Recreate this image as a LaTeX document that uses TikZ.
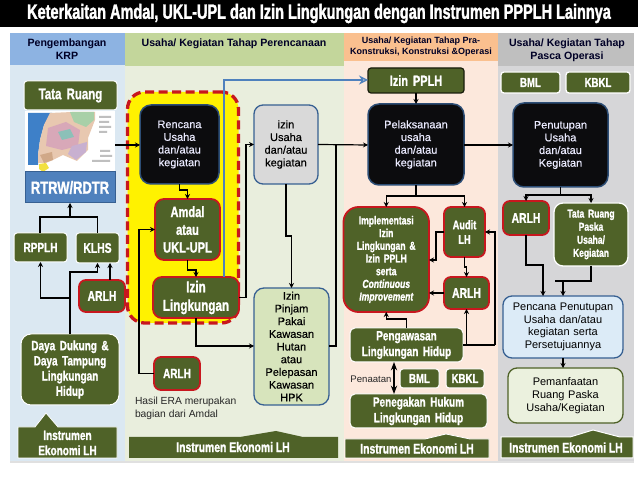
\documentclass[tikz,border=0pt]{standalone}
\usepackage{fontspec}
\setmainfont{Liberation Sans}
\newfontfamily\impact{Liberation Sans Bold}[FakeStretch=0.74,FakeBold=1.2]
\newfontfamily\impactit{Liberation Sans Bold Italic}[FakeStretch=0.74,FakeBold=1.2]
\newfontfamily\titlef{Liberation Sans Bold}[FakeStretch=0.70,FakeBold=1.6]
\newfontfamily\bodyf{Liberation Sans}[FakeBold=0.35]
\usetikzlibrary{arrows.meta,calc}
\definecolor{olive}{HTML}{4F6228}
\definecolor{redb}{HTML}{C8171E}
\definecolor{blueb}{HTML}{376092}
\definecolor{nearblack}{HTML}{0C0C0E}
\definecolor{bodyA}{HTML}{DBE8F2}
\definecolor{bodyB}{HTML}{E9EEDD}
\definecolor{bodyC}{HTML}{FCE8DC}
\definecolor{bodyD}{HTML}{D6D6D8}
\definecolor{headA}{HTML}{8DB3E2}
\definecolor{headB}{HTML}{C3D69B}
\definecolor{headC}{HTML}{FAC08F}
\definecolor{headD}{HTML}{BFBFBF}
\definecolor{sea}{HTML}{3E80C8}
\definecolor{mapA}{HTML}{E8C8B0}
\definecolor{mapB}{HTML}{D8A8B8}
\definecolor{mapC}{HTML}{A8D0A8}
\definecolor{mapD}{HTML}{8CC0B8}
\definecolor{mapE}{HTML}{C8B0D0}
\definecolor{mapF}{HTML}{F2E040}
\definecolor{mapG}{HTML}{D0A888}
\definecolor{bluefill}{HTML}{4F81BD}
\definecolor{greyfill}{HTML}{D9D9D9}
\definecolor{pinjamfill}{HTML}{D7E4BC}
\definecolor{pencanafill}{HTML}{DCEBF7}
\definecolor{manfaatfill}{HTML}{EBF1DE}
\newcommand{\impsize}[1]{\pgfmathsetmacro\impll{#1*1.05}\fontsize{#1}{\impll}\selectfont\impact}
\tikzset{
  base/.style={inner sep=0pt,outer sep=0pt,align=center},
  olivebox/.style={base,fill=olive,draw=white,line width=1pt,rounded corners=3pt,text=white},
  arlhbox/.style={base,fill=olive,draw=redb,line width=1.8pt,rounded corners=7pt,text=white},
  darkbox/.style={base,fill=nearblack,draw=blueb!80!black,line width=1.5pt,rounded corners=11pt,text=white!92!blue,font=\fontsize{11}{12.7}\selectfont\bodyf},
  lightbox/.style={base,draw=blueb,line width=1.3pt,rounded corners=9pt,text=black,font=\fontsize{11}{12.7}\selectfont},
  semibox/.style={lightbox,font=\fontsize{11}{12.7}\selectfont\bodyf},
  imp/.style={font=\impsize{#1}},
  conn/.style={draw=black,line width=1.2pt,-{Stealth[length=5pt,width=5pt]}},
  plain/.style={draw=black,line width=1.2pt},
  head/.style={base,font=\fontsize{10.6}{12.7}\selectfont\bfseries,text=black!85!blue},
}
% box from corners
\newcommand{\bx}[7]{%
  \pgfmathsetmacro\cxx{(#3+#5)/2}\pgfmathsetmacro\cyy{(#4+#6)/2}%
  \pgfmathsetmacro\www{#5-#3}\pgfmathsetmacro\hhh{#6-#4}%
  \node[#2,minimum width=\www pt,minimum height=\hhh pt,text width=\www pt] (#1) at (\cxx,\cyy) {#7};}
\begin{document}
\begin{tikzpicture}[x=1pt,y=-1pt]
\useasboundingbox (0,0) rectangle (638,478);
\fill[white] (0,0) rectangle (638,478);
% title
\fill[black] (0,0) rectangle (638,27);
\node[base,text=white,font=\fontsize{20.7}{22}\selectfont\titlef] (title) at (319,13.5) {Keterkaitan Amdal, UKL-UPL dan Izin Lingkungan dengan Instrumen PPPLH Lainnya};
% column bodies
\fill[black!12] (10,33) rectangle (634,463);
\fill[bodyA] (10,33) rectangle (125,461);
\fill[bodyB] (125,33) rectangle (344,461);
\fill[bodyC] (344,33) rectangle (498,461);
\fill[bodyD] (498,33) rectangle (634,461);
% column heads
\fill[headA] (10,33) rectangle (125,65);
\fill[headB] (125,33) rectangle (344,66);
\fill[headC] (344,33) rectangle (498,61);
\fill[headD] (498,33) rectangle (634,66);
\node[head] (h1) at (67,49) {Pengembangan\\KRP};
\node[head] (h2) at (234,44) {Usaha/ Kegiatan Tahap Perencanaan};
\node[head,font=\fontsize{9}{10.8}\selectfont\bfseries] (h3) at (421,47) {Usaha/ Kegiatan Tahap Pra-\\Konstruksi, Konstruksi \&Operasi};
\node[head] (h4) at (567,50) {Usaha/ Kegiatan Tahap\\Pasca Operasi};
% column 1
\bx{tata}{olivebox,imp=15.5}{24}{81}{117}{110}{Tata Ruang}
\bx{map}{base,fill=white}{25}{111}{115}{172}{}
\begin{scope}
  \fill[sea] (28,113) -- (52,113) -- (44,125) -- (40,140) -- (38,155) -- (38,165) -- (28,165) -- cycle;
  \fill[mapA] (50,113) -- (72,112) -- (95,112) -- (95,120) -- (88,138) -- (88,150) -- (77,161) -- (63,155) -- (53,160) -- (46,163) -- (38,163) -- (38,155) -- (40,140) -- (44,125) -- cycle;
  \fill[mapB] (48,128) -- (66,122) -- (80,130) -- (78,146) -- (62,150) -- (46,146) -- cycle;
  \fill[mapC] (70,112) -- (94,112) -- (94,120) -- (86,127) -- (74,122) -- cycle;
  \fill[mapD] (58,132) -- (70,129) -- (74,137) -- (62,140) -- cycle;
  \fill[mapE] (72,146) -- (87,142) -- (86,152) -- (76,160) -- (68,154) -- cycle;
  \fill[mapG] (40,155) -- (52,152) -- (53,160) -- (44,163) -- cycle;
  \fill[mapF] (39,164) -- (46,163) -- (49,168) -- (43,172) -- (39,169) -- cycle;
  \fill[black!25] (99,116) rectangle (111,118) (99,121) rectangle (109,123) (99,126) rectangle (111,128)
     (99,131) rectangle (107,133) (100,150) rectangle (110,152) (100,155) rectangle (112,157) (92,160) rectangle (110,162);
\end{scope}
\bx{rtrw}{base,fill=bluefill,draw=blueb,line width=1pt,text=white,imp=17.5}{25}{172}{115}{203}{RTRW/RDTR}
\bx{rpplh}{olivebox,imp=13.5}{14}{233}{67}{262}{RPPLH}
\bx{klhs}{olivebox,imp=14}{76}{233}{119}{263}{KLHS}
\bx{arlhA}{arlhbox,imp=14}{79}{280}{125}{312}{ARLH}
\bx{daya}{olivebox,rounded corners=10pt,imp=13.5}{21}{334}{119}{405}{Daya Dukung \&\\[1pt]Daya Tampung\\[1pt]Lingkungan\\[1pt]Hidup}
% col 1 banner
\fill[olive,draw=white,line width=.8pt] (18,427) -- (35,427) -- (46,413) -- (58,427) -- (117,427) -- (117,458) -- (18,458) -- cycle;
\node[base,text=white,imp=13.5] (instA) at (67.5,443) {Instrumen\\[1pt]Ekonomi LH};
% yellow dashed area
\node[base,fill=yellow,draw=redb,line width=3.3pt,rounded corners=17pt,dash pattern=on 9pt off 4.5pt,minimum width=111pt,minimum height=231pt] (yel) at (183,207.5) {};
% col 2 nodes
\bx{rencana}{darkbox}{140}{105}{219}{184}{Rencana\\Usaha\\dan/atau\\kegiatan}
\bx{amdal}{arlhbox,imp=15,rounded corners=9pt}{155}{199}{220}{260}{Amdal\\[2pt]atau\\[2pt]UKL-UPL}
\bx{izinl}{arlhbox,imp=15.8,rounded corners=9pt}{153}{277}{239}{318}{Izin\\[2pt]Lingkungan}
\bx{izinu}{semibox,fill=greyfill}{254}{105}{318}{184}{izin\\Usaha\\dan/atau\\kegiatan}
\bx{pinjam}{semibox,fill=pinjamfill,rounded corners=10pt}{254}{288}{329}{405}{Izin\\Pinjam\\Pakai\\Kawasan\\Hutan\\atau\\Pelepasan\\Kawasan\\HPK}
\bx{arlhB}{arlhbox,imp=13.5}{154}{357}{200}{390}{ARLH}
\node[base,align=left,anchor=north west,font=\fontsize{10.3}{12.7}\selectfont,text=black!85] (era) at (135,397) {Hasil ERA merupakan\\bagian dari Amdal};
\fill[olive] (129,437) -- (240,437) -- (276,431) -- (303,437) -- (338,437) -- (338,458) -- (129,458) -- cycle;
\node[base,text=white,imp=14] (instB) at (233,447) {Instrumen Ekonomi LH};
% col 3 nodes
\bx{pplh}{base,fill=olive,draw=black!70!olive,line width=1.2pt,rounded corners=3pt,text=white,imp=14.8}{368}{68}{464}{93}{Izin PPLH}
\bx{laks}{darkbox}{368}{104}{464}{185}{Pelaksanaan\\usaha\\dan/atau\\kegiatan}
\bx{impl}{arlhbox,rounded corners=15pt,font=\fontsize{11.6}{12.7}\selectfont\impact}{343.5}{207}{429}{312}{Implementasi\\Izin\\Lingkungan \&\\Izin PPLH\\serta\\{\impactit Continuous}\\{\impactit Improvement}}
\bx{audit}{arlhbox,imp=12.5}{444}{207}{485}{257}{Audit\\[1.5pt]LH}
\bx{arlhC}{arlhbox,imp=14}{444}{277}{489}{309}{ARLH}
\bx{awas}{olivebox,rounded corners=5pt,imp=13.5}{350}{328}{463}{362}{Pengawasan\\[1.5pt]Lingkungan Hidup}
\node[base,font=\fontsize{9.6}{11}\selectfont,text=black!85] (penaatan) at (371,379) {Penaatan};
\bx{bmlA}{olivebox,imp=13}{400}{369}{439}{388}{BML}
\bx{kbklA}{olivebox,imp=13}{446}{369}{484}{388}{KBKL}
\bx{tegak}{olivebox,rounded corners=5pt,imp=13.5}{350}{394}{487}{428}{Penegakan Hukum\\[1.5pt]Lingkungan Hidup}
\fill[olive,draw=white,line width=.8pt] (345,439) -- (425,439) -- (446,434) -- (470,439) -- (489,439) -- (489,458) -- (345,458) -- cycle;
\node[base,text=white,imp=14] (instC) at (417,448.5) {Instrumen Ekonomi LH};
% col 4 nodes
\bx{bmlB}{olivebox,line width=1.3pt,imp=13}{501}{72}{560}{93}{BML}
\bx{kbklB}{olivebox,line width=1.3pt,imp=13}{566}{72}{630}{93}{KBKL}
\bx{tutup}{darkbox}{513}{103}{608}{187}{Penutupan\\Usaha\\dan/atau\\Kegiatan}
\bx{arlhD}{arlhbox,imp=14}{503}{201}{549}{235}{ARLH}
\bx{paska}{olivebox,rounded corners=9pt,line width=1.3pt,imp=11.5}{554}{203}{628}{266}{Tata Ruang\\[1pt]Paska\\[1pt]Usaha/\\[1pt]Kegiatan}
\bx{pencana}{lightbox,fill=pencanafill,rounded corners=9pt}{503}{296}{623}{358}{Pencana Penutupan\\Usaha dan/atau\\kegiatan serta\\Persetujuannya}
\bx{manfaat}{lightbox,draw=olive,fill=manfaatfill,rounded corners=9pt}{508}{368}{623}{423}{Pemanfaatan\\Ruang Paska\\Usaha/Kegiatan}
\fill[olive,draw=white,line width=1pt] (501,437) -- (570,437) -- (593,430) -- (620,437) -- (633,437) -- (633,458) -- (501,458) -- cycle;
\node[base,text=white,imp=14] (instD) at (566,447.5) {Instrumen Ekonomi LH};
% connectors col 1
\draw[conn] (map.east|-0,145) -- (rencana.west|-0,145);
\coordinate (treeA) at ($(rtrw.south)+(0,14)$);
\draw[plain] (rpplh.north-|40,0) |- (treeA);
\draw[plain] (klhs.north) |- (treeA);
\draw[conn] (treeA) -- (rtrw.south);
\draw[conn] (daya.north) -- ++(0,-62) -| (klhs.south);
\draw[conn] ($(daya.north)+(0,-36)$) -| (rpplh.south);
\draw[conn] ([xshift=8pt]arlhA.north) -- ([xshift=8pt]arlhA.north|-klhs.south);
% connectors col 2
\draw[conn] (rencana.south) -- ++(0,6) -| (amdal.north);
\draw[conn] (amdal.south) -- ++(0,10) -| (izinl.north);
\draw[conn] (arlhB.west) -- ++(-15,0) |- (amdal.west);
\draw[conn] (izinl.east) -- ++(7,0) |- (izinu.west);
\draw[conn] (izinu.south) -- ++(0,52) -| (pinjam.north);
\draw[conn] (izinl.south) |- (pinjam.west|-0,346);
\draw[plain] (pinjam.east|-0,346) -- ++(7,0) |- (izinu.east);
\draw[conn] (izinu.east) -- (laks.west|-0,145);
\draw[draw=bluefill,line width=1.3pt,-{Stealth[length=9pt,width=9pt,open]}] ([xshift=28pt]izinl.north) -- ([xshift=28pt]izinl.north|-0,80) -- (pplh.west|-0,80);
% connectors col 3
\draw[conn] (pplh.south) -- (laks.north);
\coordinate (treeB) at ($(laks.south)+(0,11)$);
\draw[plain] (laks.south) -- (treeB);
\draw[conn] (treeB) -| (impl.north);
\draw[conn] (treeB) -| (audit.north);
\draw[conn] (audit.west) -- ++(-8,0) |- (impl.east|-0,260);
\draw[conn] (audit.south) -- ++(0,10) -| (arlhC.north);
\draw[conn] (arlhC.west) -- (impl.east|-arlhC.west);
\draw[conn] (awas.north) -- ++(0,-9) -| (impl.south);
\draw[plain] (awas.east) -- (495,345);
\draw[conn] (arlhC.south|-awas.east) -- (arlhC.south);
\draw[conn] (495,345) |- (audit.east);
\draw[Stealth-Stealth,draw=black,line width=1.2pt] (awas.south-|394,0) -- (tegak.north-|394,0);
% connectors col 4
\draw[conn] (laks.east|-0,145) -- (tutup.west|-0,145);
\coordinate (treeC) at ($(tutup.south)+(0,8)$);
\draw[plain] (tutup.south) -- (treeC);
\draw[conn] (treeC) -| (arlhD.north);
\draw[conn] (treeC) -| (paska.north);
\draw[conn] (arlhD.south) |- (543,265) -- (543,296);
\draw[conn] (paska.south) |- (555,281) -| (pencana.north);
\draw[conn] (pencana.south) -- (manfaat.north-|pencana.south);
\end{tikzpicture}
\end{document}
